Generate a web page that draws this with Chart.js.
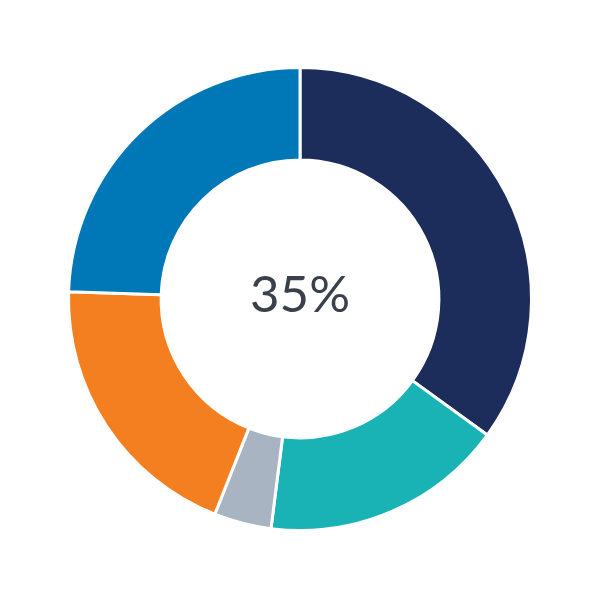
<!DOCTYPE html>
<html>
<head>
<meta charset="utf-8">
<script src="https://cdn.jsdelivr.net/npm/chart.js@4"></script>
<style>
html,body{margin:0;padding:0;background:#fff;}
#wrap{width:600px;height:599px;position:relative;}
</style>
</head>
<body>
<div id="wrap"><canvas id="c"></canvas></div>
<script>
const categories = ["Segment A", "Segment B", "Segment C", "Segment D", "Segment E"];
const values = [35, 17, 4, 19.5, 24.5];
const colors = ["#1c2c5b", "#1ab3b5", "#a9b4c2", "#f47f20", "#0077b6"];
const centerLabel = "35%";

const centerText = {
  id: 'centerText',
  afterDraw(chart) {
    const meta = chart.getDatasetMeta(0);
    const arc = meta.data[0];
    const ctx = chart.ctx;
    ctx.save();
    ctx.font = '400 51px Lato, "Open Sans", sans-serif';
    ctx.fillStyle = '#3a414c';
    ctx.textAlign = 'center';
    ctx.textBaseline = 'middle';
    ctx.fillText(centerLabel, arc.x, arc.y - 3);
    ctx.restore();
  }
};

new Chart(document.getElementById('c'), {
  type: 'doughnut',
  data: {
    labels: categories,
    datasets: [{
      data: values,
      backgroundColor: colors,
      borderColor: '#ffffff',
      borderWidth: 3,
      hoverOffset: 0
    }]
  },
  options: {
    responsive: true,
    maintainAspectRatio: false,
    animation: false,
    cutout: '60%',
    layout: { padding: { top: 66, bottom: 67, left: 67, right: 67 } },
    plugins: { legend: { display: false }, tooltip: { enabled: false } }
  },
  plugins: [centerText]
});
</script>
</body>
</html>
